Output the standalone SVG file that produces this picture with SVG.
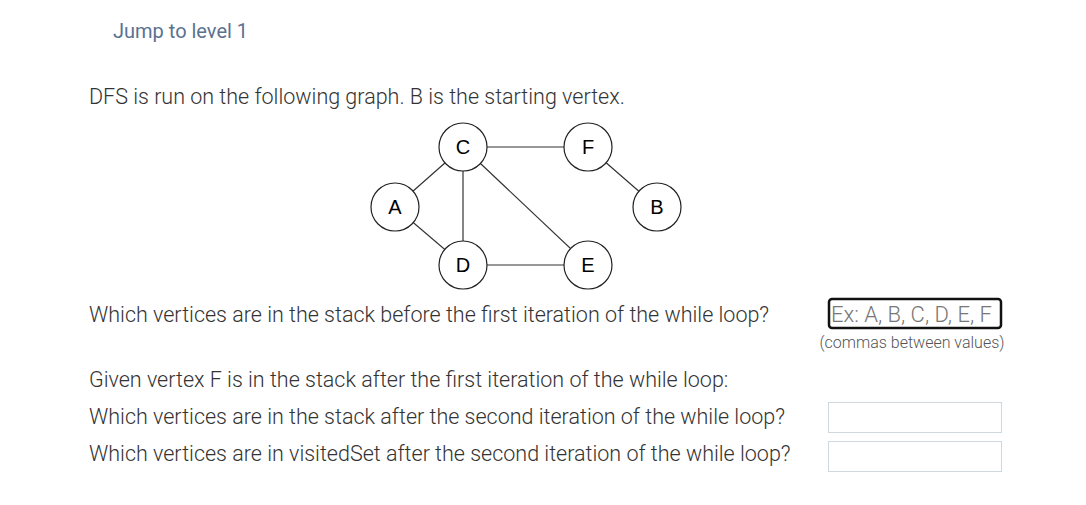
<svg xmlns="http://www.w3.org/2000/svg" width="1086" height="505" viewBox="0 0 1086 505">
<style>
.t{font-family:Roboto,"Liberation Sans",sans-serif;font-weight:300;font-size:21.5px;fill:#333}
.n circle{fill:#fff;stroke:#222;stroke-width:1.2}
.n text{font-family:"Liberation Sans",Arial,sans-serif;font-size:20px;fill:#000;text-anchor:middle}
.e line{stroke:#333;stroke-width:1.2}
.box{fill:#fff;stroke:#cfd8dc;stroke-width:1}
</style>
<rect width="1086" height="505" fill="#fff"/>
<text x="113" y="38" style="font-family:Roboto,'Liberation Sans',sans-serif;font-size:20px;fill:#5a7290">Jump to level 1</text>
<text class="t" x="89" y="104">DFS is run on the following graph. B is the starting vertex.</text>
<g class="e">
<line x1="463" y1="147" x2="588" y2="147"/>
<line x1="588" y1="147" x2="657" y2="207"/>
<line x1="463" y1="147" x2="395" y2="207"/>
<line x1="395" y1="207" x2="463" y2="265"/>
<line x1="463" y1="147" x2="463" y2="265"/>
<line x1="463" y1="147" x2="588" y2="265"/>
<line x1="463" y1="265" x2="588" y2="265"/>
</g>
<g id="C" class="n"><circle cx="463" cy="147" r="24"/><text x="463" y="154">C</text></g>
<g id="F" class="n"><circle cx="588" cy="147" r="24"/><text x="588" y="154">F</text></g>
<g id="A" class="n"><circle cx="395" cy="207" r="24"/><text x="395" y="214">A</text></g>
<g id="B" class="n"><circle cx="657" cy="207" r="24"/><text x="657" y="214">B</text></g>
<g id="D" class="n"><circle cx="463" cy="265" r="24"/><text x="463" y="272">D</text></g>
<g id="E" class="n"><circle cx="588" cy="265" r="24"/><text x="588" y="272">E</text></g>
<text class="t" x="89" y="322">Which vertices are in the stack before the first iteration of the while loop?</text>
<rect x="829" y="299" width="172" height="29" rx="3" fill="#fff" stroke="#111" stroke-width="2.5"/>
<text x="831" y="322" style="font-family:Roboto,'Liberation Sans',sans-serif;font-weight:300;font-size:22px;fill:#777">Ex: A, B, C, D, E, F</text>
<text x="912" y="348" text-anchor="middle" style="font-family:Roboto,'Liberation Sans',sans-serif;font-weight:300;font-size:16px;fill:#555">(commas between values)</text>
<text class="t" x="89" y="387">Given vertex F is in the stack after the first iteration of the while loop:</text>
<text class="t" x="89" y="424">Which vertices are in the stack after the second iteration of the while loop?</text>
<text class="t" x="89" y="461">Which vertices are in visitedSet after the second iteration of the while loop?</text>
<rect class="box" x="828.5" y="402.5" width="173" height="30"/>
<rect class="box" x="828.5" y="441.5" width="173" height="30"/>
</svg>
